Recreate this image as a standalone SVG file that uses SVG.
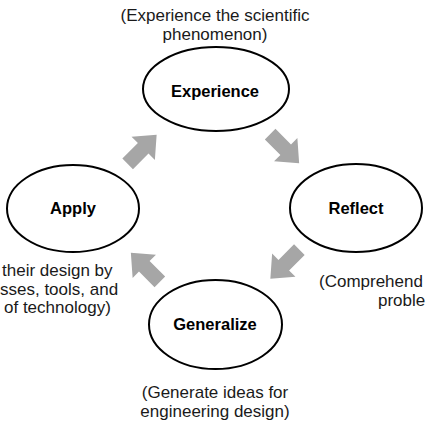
<svg xmlns="http://www.w3.org/2000/svg" width="426" height="426" viewBox="0 0 426 426">
<defs>
<style>
.node{fill:#fff;stroke:#000;stroke-width:2}
.lbl{font-family:"Liberation Sans",Arial,sans-serif;font-size:16.5px;font-weight:bold;fill:#000;text-anchor:middle}
.note{font-family:"Liberation Sans",Arial,sans-serif;font-size:17px;fill:#1a1a1a}
.mid{text-anchor:middle}
.arr{fill:#a6a6a6}
</style>
<path id="blk" d="M-21,-7.5 L1,-7.5 L1,-16.5 L20,0 L1,16.5 L1,7.5 L-21,7.5 Z"/>
</defs>
<rect width="426" height="426" fill="#fff"/>
<g id="connectors">
<use href="#blk" class="arr" transform="translate(142.5,149) rotate(-45)"/>
<use href="#blk" class="arr" transform="translate(285,149) rotate(45)"/>
<use href="#blk" class="arr" transform="translate(284.5,264.5) rotate(135)"/>
<use href="#blk" class="arr" transform="translate(145,267) rotate(-135)"/>
</g>
<g id="experience">
<ellipse class="node" cx="216" cy="89" rx="73" ry="42"/>
<text class="lbl" x="215" y="97">Experience</text>
<text class="note mid" x="215" y="21">(Experience the scientific</text>
<text class="note mid" x="215" y="39.5">phenomenon)</text>
</g>
<g id="reflect">
<ellipse class="node" cx="356" cy="208" rx="66" ry="44"/>
<text class="lbl" x="356" y="214">Reflect</text>
<text class="note" x="319" y="286.5">(Comprehend</text>
<text class="note" x="378" y="305.5">proble</text>
</g>
<g id="generalize">
<ellipse class="node" cx="215.5" cy="324.5" rx="66.5" ry="44.5"/>
<text class="lbl" x="215" y="330">Generalize</text>
<text class="note mid" x="215" y="398">(Generate ideas for</text>
<text class="note mid" x="215" y="416.5">engineering design)</text>
</g>
<g id="apply">
<ellipse class="node" cx="73" cy="208.5" rx="66" ry="43.5"/>
<text class="lbl" x="73" y="214">Apply</text>
<text class="note" x="2" y="276">their design by</text>
<text class="note" x="0" y="294.5">sses, tools, and</text>
<text class="note" x="4" y="313">of technology)</text>
</g>
</svg>
